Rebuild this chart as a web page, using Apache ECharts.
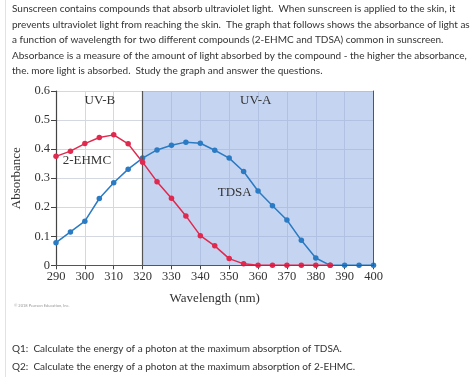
<!DOCTYPE html>
<html>
<head>
<meta charset="utf-8">
<script src="https://cdn.jsdelivr.net/npm/echarts@6/dist/echarts.min.js"></script>
<style>
  html, body { margin: 0; padding: 0; background: #fff; }
  #main { width: 474px; height: 377px; }
</style>
</head>
<body>
<div id="main"></div>
<script>
// wavelengths (nm)
var wavelengths = [290, 295, 300, 305, 310, 315, 320, 325, 330, 335, 340, 345, 350, 355,
                   360, 365, 370, 375, 380, 385, 390, 395, 400];
// 2-EHMC absorbance (red), ends at 385
var ehmc = [0.375, 0.393, 0.419, 0.44, 0.449, 0.418, 0.355, 0.288, 0.231, 0.17, 0.102, 0.067,
            0.023, 0.005, 0, 0, 0, 0, 0, 0];
// TDSA absorbance (blue)
var tdsa = [0.078, 0.115, 0.152, 0.23, 0.284, 0.331, 0.369, 0.397, 0.413, 0.424, 0.42, 0.396,
            0.369, 0.323, 0.256, 0.205, 0.156, 0.086, 0.025, 0, 0, 0, 0];
var xTicks = [290, 400, 10];
var yTicks = [0, 0.6, 0.1];
var uvaRange = [320, 400];

var intro = [
  'Sunscreen contains compounds that absorb ultraviolet light.  When sunscreen is applied to the skin, it',
  'prevents ultraviolet light from reaching the skin.  The graph that follows shows the absorbance of light as',
  'a function of wavelength for two different compounds (2-EHMC and TDSA) common in sunscreen.',
  'Absorbance is a measure of the amount of light absorbed by the compound - the higher the absorbance,',
  'the. more light is absorbed.  Study the graph and answer the questions.'
];
var questions = [
  'Q1:  Calculate the energy of a photon at the maximum absorption of TDSA.',
  'Q2:  Calculate the energy of a photon at the maximum absorption of 2-EHMC.'
];

function pairs(xs, ys) {
  var out = [];
  for (var i = 0; i < ys.length; i++) out.push([xs[i], ys[i]]);
  return out;
}

var myChart = echarts.init(document.getElementById('main'));

var serif = 'Liberation Serif';
var sans = 'Lato';

var graphics = [
  { type: 'line', shape: { x1: 5.5, y1: 0, x2: 5.5, y2: 377 }, style: { stroke: '#e2e2e2', lineWidth: 1 } },
  { type: 'text', left: 14, top: 304, style: { text: '\u00a9 2018 Pearson Education, Inc.', font: '4px ' + sans, fill: '#999' } }
];
intro.forEach(function (t, i) {
  graphics.push({ type: 'text', left: 12, top: 4 + i * 15.5,
    style: { text: t, font: '10px ' + sans, fill: '#333' } });
});
questions.forEach(function (t, i) {
  graphics.push({ type: 'text', left: 12, top: 344 + i * 18,
    style: { text: t, font: '10px ' + sans, fill: '#333' } });
});

function textMark(name, x, y) {
  return { name: name, coord: [x, y], symbolSize: 0,
    label: { show: true, formatter: name, position: 'inside', color: '#333',
      fontFamily: serif, fontSize: 13 } };
}

var option = {
  animation: false,
  grid: { left: 56, right: 100.5, top: 91, bottom: 111.7, containLabel: false },
  graphic: graphics,
  xAxis: [{
    type: 'value', min: xTicks[0], max: xTicks[1], interval: xTicks[2],
    name: 'Wavelength (nm)', nameLocation: 'middle', nameGap: 27,
    nameTextStyle: { fontFamily: serif, fontSize: 13, color: '#333' },
    axisLine: { show: true, lineStyle: { color: '#444', width: 1.2 } },
    axisTick: { show: true, length: 4, lineStyle: { color: '#444' } },
    axisLabel: { fontFamily: serif, fontSize: 12.5, color: '#333', margin: 5 },
    splitLine: { show: true, lineStyle: { color: '#d4d8e0', width: 1 } }
  }, {
    type: 'value', position: 'top', min: xTicks[0], max: xTicks[1],
    axisLine: { show: true, lineStyle: { color: '#555', width: 1 } },
    axisTick: { show: false }, axisLabel: { show: false }, splitLine: { show: false },
    z: 10
  }],
  yAxis: [{
    type: 'value', min: yTicks[0], max: yTicks[1], interval: yTicks[2],
    name: 'Absorbance', nameLocation: 'middle', nameGap: 33,
    nameTextStyle: { fontFamily: serif, fontSize: 13, color: '#333' },
    axisLine: { show: true, lineStyle: { color: '#444', width: 1.2 } },
    axisTick: { show: true, length: 5, lineStyle: { color: '#444' } },
    axisLabel: { fontFamily: serif, fontSize: 12.5, color: '#333', margin: 6 },
    splitLine: { show: true, lineStyle: { color: '#d4d8e0', width: 1 } }
  }, {
    type: 'value', position: 'right', min: yTicks[0], max: yTicks[1],
    axisLine: { show: true, lineStyle: { color: '#555', width: 1 } },
    axisTick: { show: false }, axisLabel: { show: false }, splitLine: { show: false },
    z: 10
  }],
  series: [{
    name: 'TDSA', type: 'line', data: pairs(wavelengths, tdsa),
    symbol: 'circle', symbolSize: 5.5, showAllSymbol: true, z: 4,
    itemStyle: { color: '#2a7bc3' }, lineStyle: { color: '#2a7bc3', width: 1.5 },
    markArea: {
      silent: true,
      itemStyle: { color: 'rgba(140,170,225,0.5)' },
      data: [[{ xAxis: uvaRange[0] }, { xAxis: uvaRange[1] }]]
    },
    markLine: {
      silent: true, symbol: 'none', label: { show: false },
      lineStyle: { color: '#555', type: 'solid', width: 1.2 },
      data: [{ xAxis: uvaRange[0] }]
    },
    markPoint: {
      symbol: 'circle', silent: true,
      data: [textMark('UV-B', 305.2, 0.566), textMark('UV-A', 359.2, 0.566),
             textMark('TDSA', 351.9, 0.25)]
    }
  }, {
    name: '2-EHMC', type: 'line', data: pairs(wavelengths, ehmc),
    symbol: 'circle', symbolSize: 5.5, showAllSymbol: true, z: 5,
    itemStyle: { color: '#e0294e' }, lineStyle: { color: '#e0294e', width: 1.5 },
    markPoint: {
      symbol: 'circle', silent: true,
      data: [textMark('2-EHMC', 300.7, 0.359)]
    }
  }]
};

myChart.setOption(option);

window.onresize = function () {
  myChart.resize();
};
</script>
</body>
</html>
